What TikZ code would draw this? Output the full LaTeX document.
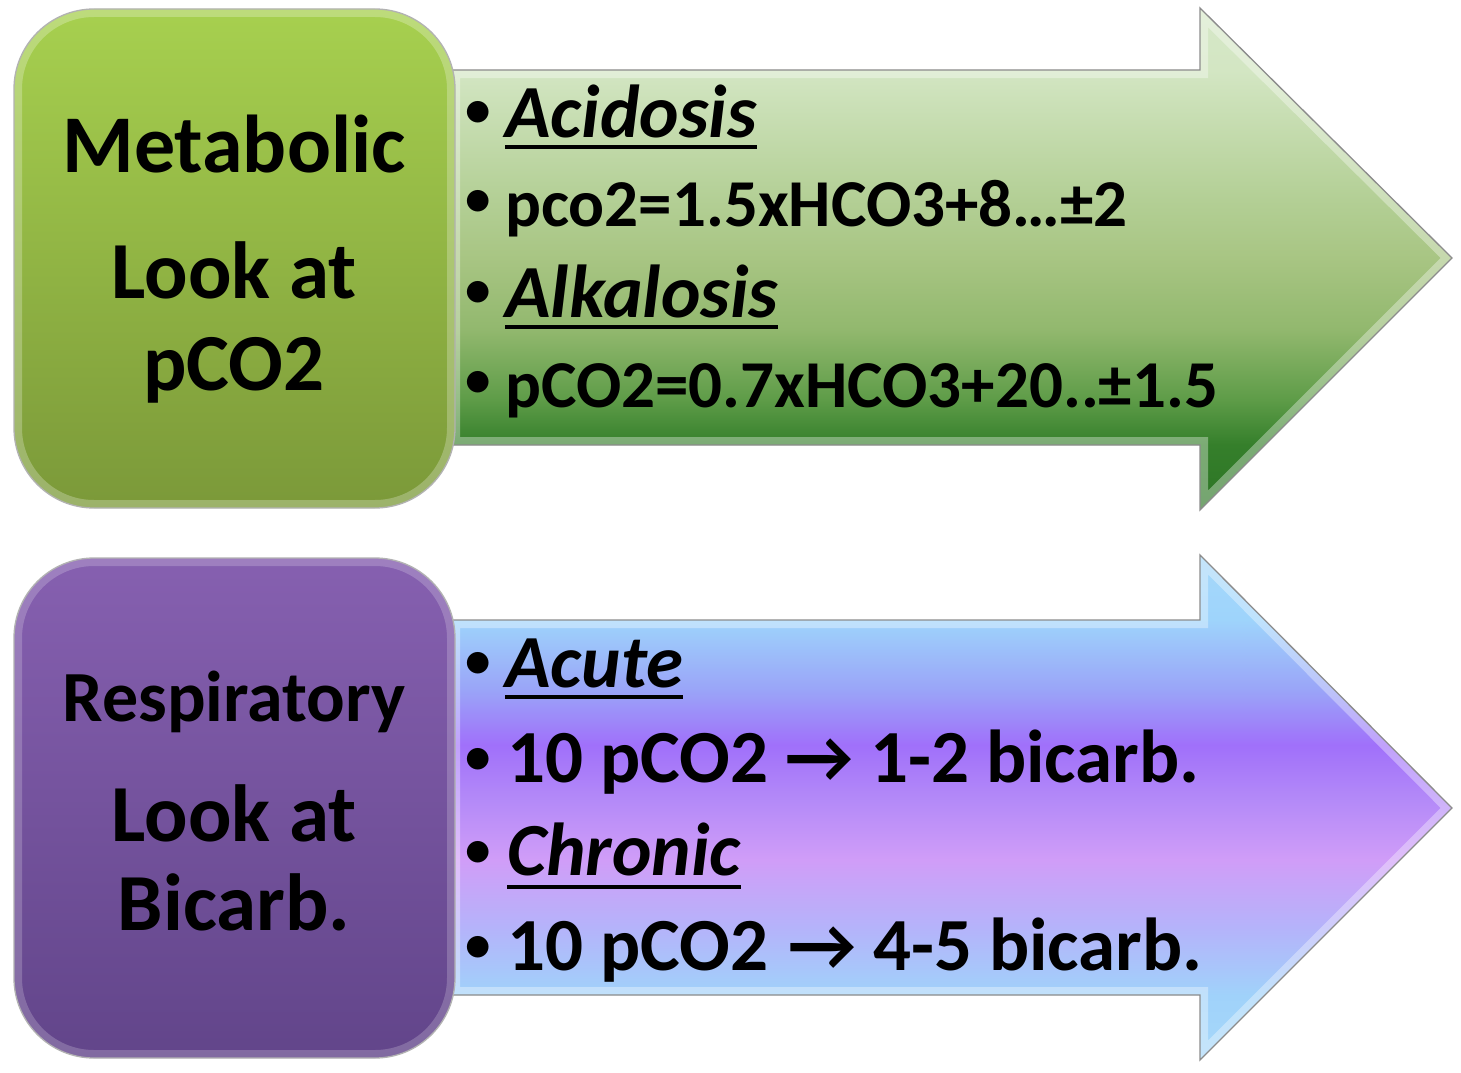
\documentclass[tikz,border=0pt]{standalone}
\usepackage{fontspec}
\setmainfont{Carlito}
\definecolor{gboxT}{HTML}{A7D04F}
\definecolor{gboxB}{HTML}{7B9939}
\definecolor{pboxT}{HTML}{8660B0}
\definecolor{pboxB}{HTML}{62458A}
\definecolor{ga1}{HTML}{D6E8C8}
\definecolor{ga2}{HTML}{D3E6C3}
\definecolor{ga3}{HTML}{B3CF95}
\definecolor{ga4}{HTML}{A8C583}
\definecolor{ga5}{HTML}{92B86E}
\definecolor{ga6}{HTML}{5E9C48}
\definecolor{ga7}{HTML}{357F2B}
\definecolor{ga8}{HTML}{2C7424}
\definecolor{pa1}{HTML}{A6D8FA}
\definecolor{pa2}{HTML}{9ED4FB}
\definecolor{pa3}{HTML}{9AA4F8}
\definecolor{pa4}{HTML}{A070FA}
\definecolor{pa5}{HTML}{B48AF8}
\definecolor{pa6}{HTML}{D09DF8}
\definecolor{pa7}{HTML}{B4B4FA}
\definecolor{pa8}{HTML}{A0D2FA}
\pgfdeclareverticalshading{gboxsh}{100bp}{color(0bp)=(gboxB); color(25bp)=(gboxB); color(75bp)=(gboxT); color(100bp)=(gboxT)}
\pgfdeclareverticalshading{pboxsh}{100bp}{color(0bp)=(pboxB); color(25bp)=(pboxB); color(75bp)=(pboxT); color(100bp)=(pboxT)}
\pgfdeclareverticalshading{garrsh}{100bp}{color(0bp)=(ga8); color(25bp)=(ga8); color(31.5bp)=(ga7); color(36bp)=(ga6); color(43bp)=(ga5); color(50.1bp)=(ga4); color(55.9bp)=(ga3); color(68.8bp)=(ga2); color(75bp)=(ga1); color(100bp)=(ga1)}
\pgfdeclareverticalshading{parrsh}{100bp}{color(0bp)=(pa1); color(25bp)=(pa1); color(31.4bp)=(pa8); color(37.9bp)=(pa7); color(44.8bp)=(pa6); color(50.7bp)=(pa5); color(56.2bp)=(pa4); color(61.6bp)=(pa3); color(68.6bp)=(pa2); color(75bp)=(pa1); color(100bp)=(pa1)}
\tikzset{
  rim/.style={draw=white, draw opacity=0.35, line width=16},
  outline/.style={draw=black!45, line width=1.3},
  boxtxt/.style={inner sep=0, anchor=base, text=black},
  listtxt/.style={inner sep=0, anchor=base west, text=black},
  bul/.style={inner sep=0, anchor=base, text=black, font=\fontsize{51}{56}\selectfont\bfseries},
  uline/.style={draw=black, line width=4},
}
\newcommand{\bigA}{\fontsize{82}{90}\selectfont\bfseries}
\newcommand{\bigB}{\fontsize{81}{90}\selectfont\bfseries}
\newcommand{\bigR}{\fontsize{72}{80}\selectfont\bfseries}
\newcommand{\topL}{\fontsize{67}{75}\selectfont\bfseries}
\newcommand{\topI}{\fontsize{75}{84}\selectfont\bfseries\itshape}
\newcommand{\botL}{\fontsize{75}{84}\selectfont\bfseries}
\newcommand{\toparrowpath}{(452,70) -- (1200,70) -- (1200,8) -- (1452,258) -- (1200,510) -- (1200,445) -- (452,445) -- cycle}
\newcommand{\botarrowpath}{(452,620) -- (1200,620) -- (1200,555) -- (1452,808) -- (1200,1060) -- (1200,995) -- (452,995) -- cycle}
\newcommand{\topboxpath}{[rounded corners=80] (14,9) rectangle (455,508)}
\newcommand{\botboxpath}{[rounded corners=80] (14,558) rectangle (455,1058)}
\begin{document}
\begin{tikzpicture}[x=1pt,y=-1pt]
\useasboundingbox (0,0) rectangle (1461,1073);
\fill[white] (0,0) rectangle (1461,1073);
% ---------- top arrow ----------
\shade[shading=garrsh] \toparrowpath;
\begin{scope}
  \clip \toparrowpath;
  \draw[rim] \toparrowpath;
\end{scope}
\draw[outline] \toparrowpath;
% ---------- top box ----------
\shade[shading=gboxsh] \topboxpath;
\begin{scope}
  \clip \topboxpath;
  \draw[rim, draw opacity=0.25] \topboxpath;
\end{scope}
\draw[outline, draw=black!30] \topboxpath;
% ---------- bottom arrow ----------
\shade[shading=parrsh] \botarrowpath;
\begin{scope}
  \clip \botarrowpath;
  \draw[rim] \botarrowpath;
\end{scope}
\draw[outline] \botarrowpath;
% ---------- bottom box ----------
\shade[shading=pboxsh] \botboxpath;
\begin{scope}
  \clip \botboxpath;
  \draw[rim, draw opacity=0.2] \botboxpath;
\end{scope}
\draw[outline, draw=black!30] \botboxpath;
% ---------- box texts ----------
\node[boxtxt] (m1) at (234,172) {\bigA Metabolic};
\node[boxtxt] (m2) at (234,298) {\bigB Look at};
\node[boxtxt] (m3) at (234,390) {\bigB pCO2};
\node[boxtxt] (r1) at (234,721) {\bigR Respiratory};
\node[boxtxt] (r2) at (234,841) {\bigB Look at};
\node[boxtxt] (r3) at (234,930) {\bigB Bicarb.};
% ---------- top list ----------
\node[bul] (b1) at (478,126) {•};
\node[bul] (b2) at (478,215) {•};
\node[bul] (b3) at (478,306) {•};
\node[bul] (b4) at (478,396) {•};
\node[listtxt] (t1) at (505,137) {\topI Acidosis};
\node[listtxt] (t2) at (505,226) {\topL pco2=1.5xHCO3+8…±2};
\node[listtxt] (t3) at (505,317) {\topI Alkalosis};
\node[listtxt] (t4) at (505,407) {\topL pCO2=0.7xHCO3+20..±1.5};
\draw[uline] ([yshift=-10pt]t1.base west) -- ([yshift=-10pt]t1.base east);
\draw[uline] ([yshift=-10pt]t3.base west) -- ([yshift=-10pt]t3.base east);
% ---------- bottom list ----------
\node[bul] (c1) at (478,677) {•};
\node[bul] (c2) at (478,773) {•};
\node[bul] (c3) at (478,866) {•};
\node[bul] (c4) at (478,961) {•};
\node[listtxt] (u1) at (505,687) {\botL\itshape Acute};
\node[listtxt] (u2) at (507,782) {\botL 10 pCO2 → 1-2 bicarb.};
\node[listtxt] (u3) at (507,875) {\botL\itshape Chronic};
\node[listtxt] (u4) at (507,970) {\botL 10 pCO2\hspace{0.04em} → 4-5 bicarb.};
\draw[uline] ([yshift=-10pt]u1.base west) -- ([yshift=-10pt]u1.base east);
\draw[uline] ([yshift=-12pt]u3.base west) -- ([yshift=-12pt]u3.base east);
\end{tikzpicture}
\end{document}
